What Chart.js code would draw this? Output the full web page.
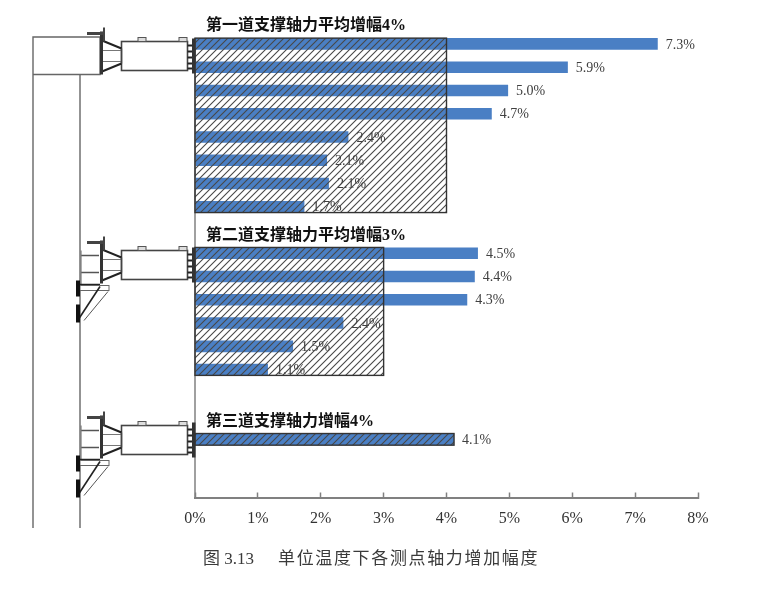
<!DOCTYPE html>
<html>
<head>
<meta charset="utf-8">
<style>
html,body{margin:0;padding:0;background:#fff;width:760px;height:592px;overflow:hidden}
#wrap{position:relative;width:760px;height:592px}
canvas{position:absolute;left:0;top:0}
svg{position:absolute;left:0;top:0}
.cap{position:absolute;top:548px;font:17px/22px "Liberation Serif","Noto Sans CJK SC",serif;color:#3a3a3a;white-space:pre}
</style>
<script src="https://cdn.jsdelivr.net/npm/chart.js@4"></script>
</head>
<body>
<div id="wrap">
<canvas id="c" width="760" height="592"></canvas>
<svg width="760" height="592" viewBox="0 0 760 592" fill="none" id="diagram">
  <defs>
    <g id="strut">
      <rect x="121.5" y="0" width="66" height="29" fill="#fff" stroke="#444" stroke-width="1.6"/>
      <rect x="138" y="-4" width="8" height="4" fill="#ddd" stroke="#555"/>
      <rect x="179" y="-4" width="8" height="4" fill="#ddd" stroke="#555"/>
      <rect x="192" y="-3" width="3.5" height="35" fill="#333"/>
      <path d="M187.5 4H192M187.5 10H192M187.5 16H192M187.5 22H192M187.5 27H192" stroke="#222" stroke-width="2"/>
      <path d="M102 -1L121.5 7M102 30L121.5 22" stroke="#222" stroke-width="2"/>
      <path d="M103 9H121M103 20H121" stroke="#777" stroke-width="1"/>
      <path d="M121.5 7V22" stroke="#444" stroke-width="1.4"/>
      <path d="M101.5 -10V33" stroke="#333" stroke-width="3"/>
      <path d="M87 -8H103" stroke="#444" stroke-width="3"/>
      <path d="M104 -14V0" stroke="#444" stroke-width="2"/>
    </g>
    <g id="brace">
      <path d="M81 5H99M81 22H99" stroke="#555" stroke-width="1.4"/>
      <path d="M81 0V34" stroke="#777" stroke-width="1.2"/>
      <path d="M80 34H100" stroke="#222" stroke-width="1.5"/>
      <rect x="80" y="35" width="29" height="5" fill="#fff" stroke="#666"/>
      <path d="M79 68L100 36" stroke="#222" stroke-width="1.6"/>
      <path d="M84 70L108 41" stroke="#555" stroke-width="1"/>
      <path d="M78 30V46M78 54V72" stroke="#111" stroke-width="4"/>
    </g>
  </defs>
  <path d="M33 37H100V74.5H33ZM33 74.5V528M80 74.5V528" stroke="#666" stroke-width="1.4"/>
  <use href="#strut" y="41.5"/>
  <use href="#strut" y="250.5"/>
  <use href="#strut" y="425.5"/>
  <use href="#brace" y="250.5"/>
  <use href="#brace" y="425.5"/>
</svg>
<div class="cap" style="left:203px">图 3.13</div>
<div class="cap" style="left:278px;letter-spacing:1.65px">单位温度下各测点轴力增加幅度</div>
</div>
<script>
const categories = ['一-1','一-2','一-3','一-4','一-5','一-6','一-7','一-8','','二-1','二-2','二-3','二-4','二-5','二-6','','','三-1','',''];
const values = [7.36,5.93,4.98,4.72,2.44,2.10,2.13,1.74,null,4.50,4.45,4.33,2.36,1.56,1.16,null,null,4.12,null,null];
const valueLabels = ['7.3%','5.9%','5.0%','4.7%','2.4%','2.1%','2.1%','1.7%','','4.5%','4.4%','4.3%','2.4%','1.5%','1.1%','','','4.1%','',''];
const xTicks = [0,1,2,3,4,5,6,7,8];
const groupTitles = ['第一道支撑轴力平均增幅4%','第二道支撑轴力平均增幅3%','第三道支撑轴力增幅4%'];
const groupExtent = [4.0,3.0,4.12];
const groupFirst = [0,9,17];
const groupLast = [7,14,17];
const BAR_BLUE = '#4a7fc4';

function hatchPattern(ctx){
  const s = 7, p = document.createElement('canvas');
  p.width = s; p.height = s;
  const g = p.getContext('2d');
  g.strokeStyle = '#484848'; g.lineWidth = 1.1;
  g.beginPath();
  g.moveTo(-1,1); g.lineTo(1,-1);
  g.moveTo(0,s); g.lineTo(s,0);
  g.moveTo(s-1,s+1); g.lineTo(s+1,s-1);
  g.stroke();
  return ctx.createPattern(p,'repeat');
}

const overlay = {
  id:'overlay',
  afterDatasetsDraw(chart){
    const {ctx, scales:{x,y}} = chart;
    const half = y.getPixelForValue(1) - y.getPixelForValue(0);
    const barHalf = half/4;
    const x0 = x.getPixelForValue(0);
    ctx.save();
    ctx.strokeStyle = '#808080'; ctx.lineWidth = 1.5;
    ctx.beginPath();
    ctx.moveTo(x0, y.getPixelForValue(0)-barHalf);
    ctx.lineTo(x0, y.bottom);
    ctx.stroke();
    const pat = hatchPattern(ctx);
    groupTitles.forEach((t,i)=>{
      const top = y.getPixelForValue(groupFirst[i]) - barHalf;
      const bot = y.getPixelForValue(groupLast[i]) + barHalf;
      const xe = x.getPixelForValue(groupExtent[i]);
      ctx.fillStyle = pat;
      ctx.fillRect(x0, top, xe-x0, bot-top);
      ctx.strokeStyle = '#333'; ctx.lineWidth = 1.4;
      ctx.strokeRect(x0, top, xe-x0, bot-top);
      ctx.fillStyle = '#111';
      ctx.font = 'bold 16px "Liberation Serif","Noto Sans CJK SC",serif';
      ctx.textAlign = 'left'; ctx.textBaseline = 'middle';
      ctx.fillText(t, x0+11, top-12);
    });
    ctx.font = '14px "Liberation Serif","Noto Sans CJK SC",serif';
    ctx.fillStyle = '#404040';
    ctx.textAlign = 'left'; ctx.textBaseline = 'middle';
    values.forEach((v,i)=>{
      if(v===null) return;
      ctx.fillText(valueLabels[i], x.getPixelForValue(v)+8, y.getPixelForValue(i)+1);
    });
    ctx.restore();
  }
};

new Chart(document.getElementById('c'),{
  type:'bar',
  data:{labels:categories,datasets:[{data:values,backgroundColor:BAR_BLUE,borderWidth:0,barPercentage:0.5,categoryPercentage:1}]},
  options:{
    indexAxis:'y',responsive:false,animation:false,
    layout:{padding:{left:195,right:62,top:32.3,bottom:54.5}},
    plugins:{legend:{display:false},tooltip:{enabled:false},title:{display:false}},
    scales:{
      x:{type:'linear',min:0,max:8,
        afterFit(s){s.height=40;},
        afterBuildTicks(s){s.ticks=xTicks.map(v=>({value:v}));},
        border:{display:true,color:'#808080',width:2},
        grid:{drawOnChartArea:false,drawTicks:true,tickLength:-5,tickColor:'#808080',tickWidth:1.5},
        ticks:{padding:17,color:'#333',font:{family:'"Liberation Serif",serif',size:16},maxRotation:0,callback:v=>v+'%'}},
      y:{type:'category',
        afterFit(s){s.width=0;},
        border:{display:false},grid:{display:false},ticks:{display:false}}
    }
  },
  plugins:[overlay]
});
</script>
</body>
</html>
